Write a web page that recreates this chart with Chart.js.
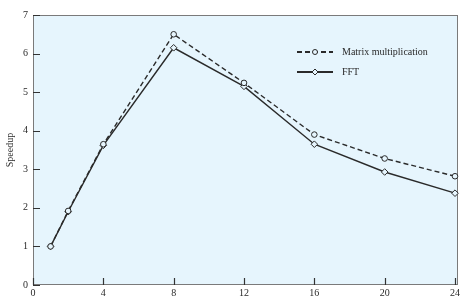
<!DOCTYPE html>
<html><head><meta charset="utf-8">
<script src="https://cdn.jsdelivr.net/npm/chart.js@4"></script>
<style>html,body{margin:0;padding:0;background:#fff}#wrap{width:474px;height:300px}</style>
</head><body><div id="wrap"><canvas id="c" width="474" height="300"></canvas></div>
<script>
const processors = [1, 2, 4, 8, 12, 16, 20, 24];
const matrixSpeedup = [1.0, 1.92, 3.65, 6.5, 5.24, 3.9, 3.28, 2.82];
const fftSpeedup = [1.0, 1.9, 3.62, 6.15, 5.15, 3.65, 2.93, 2.38];
const xTicks = [0, 4, 8, 12, 16, 20, 24];
const yTicks = [0, 1, 2, 3, 4, 5, 6, 7];
const seriesNames = ['Matrix multiplication', 'FFT'];

const FONT = '"Liberation Serif", "Times New Roman", serif';
const INK = '#2a2a2a';
const BG = '#e6f5fd';

const frame = {
  id: 'frame',
  beforeDraw(chart) {
    const {ctx, chartArea: a} = chart;
    ctx.save();
    ctx.fillStyle = BG;
    ctx.fillRect(a.left, a.top, a.right - a.left + 3, a.bottom - a.top);
    ctx.strokeStyle = '#7a7a7a';
    ctx.lineWidth = 1;
    ctx.strokeRect(Math.round(a.left) + 0.5, Math.round(a.top) + 0.5, Math.round(a.right - a.left) + 2, Math.round(a.bottom - a.top) - 1);
    ctx.strokeStyle = '#333';
    ctx.lineWidth = 1.2;
    ctx.beginPath();
    const sc = chart.scales;
    xTicks.forEach(v => {
      const x = Math.round(sc.x.getPixelForValue(v)) + 0.5;
      ctx.moveTo(x, a.bottom); ctx.lineTo(x, a.bottom - 7);
    });
    yTicks.forEach(v => {
      const y = Math.round(sc.y.getPixelForValue(v)) + 0.5;
      ctx.moveTo(a.left, y); ctx.lineTo(a.left + 7, y);
    });
    ctx.stroke();
    ctx.restore();
  },
  afterDatasetsDraw(chart) {
    const {ctx} = chart;
    ctx.save();
    const items = chart.data.datasets;
    const lx = 297, ly = 52, gap = 20;
    items.forEach((ds, i) => {
      const y = ly + i * gap;
      ctx.strokeStyle = ds.borderColor;
      ctx.lineWidth = ds.borderWidth + 0.4;
      ctx.setLineDash(ds.borderDash || []);
      ctx.beginPath(); ctx.moveTo(lx, y); ctx.lineTo(lx + 36, y); ctx.stroke();
      ctx.setLineDash([]);
      ctx.lineWidth = 1;
      ctx.fillStyle = BG;
      const cx = lx + 18;
      ctx.beginPath();
      if (ds.pointStyle === 'circle') ctx.arc(cx, y, 2.5, 0, Math.PI * 2);
      else { ctx.moveTo(cx, y - 3); ctx.lineTo(cx + 3, y); ctx.lineTo(cx, y + 3); ctx.lineTo(cx - 3, y); ctx.closePath(); }
      ctx.fill(); ctx.stroke();
      ctx.fillStyle = INK;
      ctx.font = '10px ' + FONT;
      ctx.textBaseline = 'middle';
      ctx.fillText(ds.label, lx + 45, y);
    });
    ctx.restore();
  }
};

new Chart(document.getElementById('c'), {
  type: 'line',
  data: {
    datasets: [
      {
        label: seriesNames[0],
        data: processors.map((p, i) => ({x: p, y: matrixSpeedup[i]})),
        borderColor: INK, borderWidth: 1.4, borderDash: [5, 3], clip: false,
        pointStyle: 'circle', pointRadius: 2.8, pointBorderWidth: 1,
        pointBackgroundColor: BG, pointBorderColor: INK, tension: 0
      },
      {
        label: seriesNames[1],
        data: processors.map((p, i) => ({x: p, y: fftSpeedup[i]})),
        borderColor: INK, borderWidth: 1.4, clip: false,
        pointStyle: 'rectRot', pointRadius: 3.3, pointBorderWidth: 1,
        pointBackgroundColor: BG, pointBorderColor: INK, tension: 0
      }
    ]
  },
  options: {
    responsive: false, animation: false,
    layout: {padding: {left: 0, right: 19, top: 15, bottom: 0}},
    plugins: {legend: {display: false}, tooltip: {enabled: false}},
    scales: {
      x: {
        type: 'linear', min: 0, max: 24,
        afterBuildTicks: s => { s.ticks = xTicks.map(v => ({value: v})); },
        afterFit: s => { s.height = 15; },
        grid: {display: false, drawTicks: false, tickLength: 0}, border: {display: false},
        ticks: {color: INK, font: {family: FONT, size: 10}, padding: 2, maxRotation: 0}
      },
      y: {
        min: 0, max: 7,
        afterBuildTicks: s => { s.ticks = yTicks.map(v => ({value: v})); },
        afterFit: s => { s.width = 33; },
        grid: {display: false, drawTicks: false, tickLength: 0}, border: {display: false},
        title: {display: true, text: 'Speedup', color: INK, font: {family: FONT, size: 10}, padding: {top: 4, bottom: 0}},
        ticks: {color: INK, font: {family: FONT, size: 10}, padding: 5}
      }
    }
  },
  plugins: [frame]
});
</script>
</body></html>
